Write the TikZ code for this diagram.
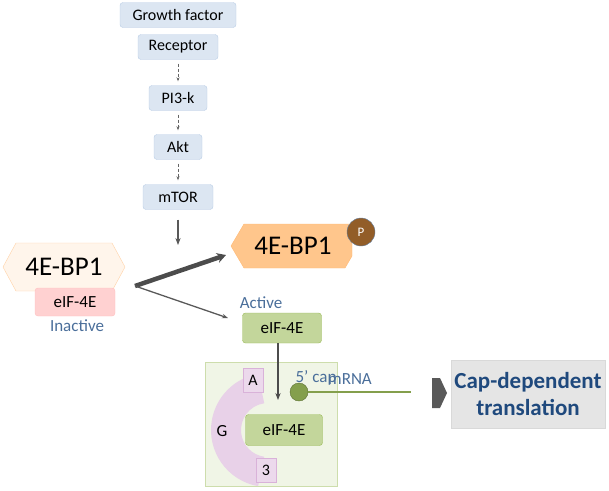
\documentclass[tikz,border=0pt]{standalone}
\usepackage{fontspec}
\setmainfont{Carlito}
\usetikzlibrary{arrows.meta}
\definecolor{bfill}{HTML}{DCE6F2}\definecolor{bdraw}{HTML}{B9CDE5}
\definecolor{gfill}{HTML}{C3D69B}\definecolor{gdraw}{HTML}{9BBB59}
\definecolor{tblue}{HTML}{1F497D}\definecolor{lblue}{HTML}{4A6E9A}
\begin{document}
\begin{tikzpicture}[x=1pt,y=-1pt,
 bx/.style={draw=bdraw,fill=bfill,rounded corners=3pt,font=\fontsize{16}{18}\selectfont,minimum height=25pt,inner xsep=4pt},
 darr/.style={-{Stealth[length=4pt]},densely dashed,gray!80!black,line width=0.9pt},
 sq/.style={draw=violet!30,fill=violet!15,minimum width=20pt,minimum height=24pt,inner sep=0pt,font=\fontsize{16}{18}\selectfont},
 lbl/.style={text=lblue,font=\fontsize{17}{19}\selectfont}]
\useasboundingbox (0,0) rectangle (609,490);
\node[bx,minimum width=116pt] (gf) at (178,15) {Growth factor};
\node[bx,minimum width=80pt] (rc) at (178,47) {Receptor};
\node[bx,minimum width=58pt] (pi) at (178,98) {PI3-k};
\node[bx,minimum width=48pt] (akt) at (178,147) {Akt};
\node[bx,minimum width=70pt] (mt) at (178,197) {mTOR};
\draw[darr,shorten <=4pt,shorten >=4pt] (rc) -- (pi);
\draw[darr,shorten <=4pt,shorten >=4pt] (pi) -- (akt);
\draw[darr,shorten <=4pt,shorten >=4pt] (akt) -- (mt);
\coordinate (mte) at (178,245);
\draw[-{Stealth[length=7pt]},line width=1.8pt,gray!70!black,shorten <=10pt] (mt) -- (mte);
% left complex
\draw[orange!35,fill=orange!8] (3,267) -- (16,243) -- (112,243) -- (125,267) -- (112,291) -- (16,291) -- cycle;
\node[font=\fontsize{27}{30}\selectfont] (bp1) at (64,267) {4E-BP1};
\node[draw=red!25,fill=red!18,rounded corners=3pt,minimum width=80pt,minimum height=28pt,font=\fontsize{17}{19}\selectfont] (e1) at (75,302) {eIF-4E};
\node[lbl] (ina) at (77,326) {Inactive};
% right 4E-BP1
\fill[orange!45,draw=orange!55] (231,246) -- (244,224) -- (352,224) -- (352,256) -- (345,268) -- (244,268) -- cycle;
\node[font=\fontsize{27}{30}\selectfont] (bp2) at (293,246) {4E-BP1};
\node[circle,fill=brown!70!black!90!orange,draw=tblue!70,minimum size=28pt,inner sep=0pt,text=white,font=\fontsize{13}{15}\selectfont] (p) at (361,232) {P};
\coordinate (split) at (135,286);
\coordinate (up) at (226,255);
\coordinate (dn) at (228,318);
\draw[-{Stealth[length=9pt,width=10pt]},line width=4.5pt,gray!60!black] (split) -- (up);
\draw[-{Stealth[length=6pt]},line width=1.3pt,gray!70!black] (split) -- (dn);
% active eIF
\node[lbl] (act) at (261,303) {Active};
\node[draw=gdraw,fill=gfill,rounded corners=3pt,minimum width=79pt,minimum height=30pt,font=\fontsize{17}{19}\selectfont] (e2) at (282,328) {eIF-4E};
% complex box
\node[draw=gdraw!50,fill=gfill!25,minimum width=132pt,minimum height=124pt] (cx) at (271,424) {};
\fill[violet!18] ([shift={(100:57)}]268,430) arc[start angle=100,end angle=260,radius=57] -- ([shift={(262:27)}]268,430) arc[start angle=262,end angle=98,radius=27] -- cycle;
\node[sq] (a) at (253,380) {A};
\node[sq] (t) at (266,470) {3};
\node[font=\fontsize{17}{19}\selectfont] (g) at (222,431) {G};
\node[draw=gdraw,fill=gfill,rounded corners=3pt,minimum width=77pt,minimum height=31pt,font=\fontsize{17}{19}\selectfont] (e3) at (284,430) {eIF-4E};
\coordinate (cin) at (278,400);
\draw[-{Stealth[length=7pt]},line width=1.1pt,gray!60!black] (e2.south -| cin) -- (cin);
\coordinate (mend) at (411,392);
\node[circle,fill=gdraw!85!black,draw=gdraw!60!black,minimum size=18pt,inner sep=0pt] (cap) at (299,392) {};
\draw[gdraw!85!black,line width=2.5pt] (cap) -- (mend);
\node[lbl] (ct) at (316,378) {5’ cap};
\node[lbl] (mr) at (350,379) {mRNA};
\fill[gray!70!black] (432,378) -- (440,378) -- (447,393) -- (440,408) -- (432,408) -- cycle;
\node[fill=gray!20,draw=gray!30,minimum width=153pt,minimum height=68pt,align=center,text=tblue,font=\bfseries\fontsize{23}{27}\selectfont] (tr) at (528,394) {Cap-dependent\\translation};
\end{tikzpicture}
\end{document}
